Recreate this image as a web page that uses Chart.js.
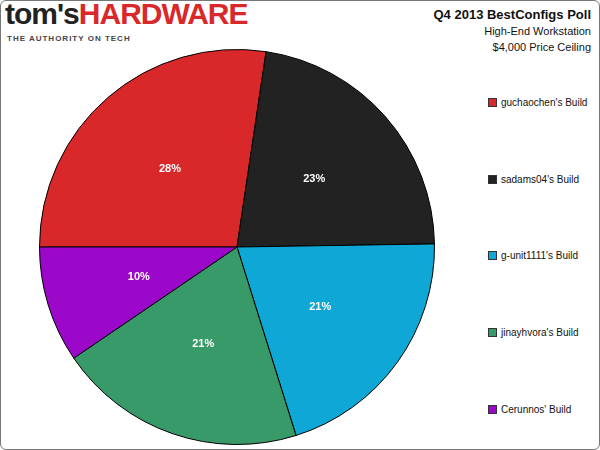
<!DOCTYPE html>
<html><head><meta charset="utf-8">
<script src="https://cdn.jsdelivr.net/npm/chart.js@4"></script>
<style>
body{margin:0;background:#fff;font-family:Arial,"Liberation Sans",sans-serif}
#frame{position:absolute;left:0;top:0;width:598px;height:448px;border:1px solid #777;border-radius:6px;overflow:hidden}
#logo{position:absolute;left:4px;top:-4px;font-size:30px;font-weight:bold;letter-spacing:-1px}
#logo .a{color:#222}#logo .b{color:#d9282a}
#tag{position:absolute;left:6px;top:33px;font-size:8px;font-weight:bold;color:#444;letter-spacing:1px}
#title{position:absolute;right:8px;top:6px;text-align:right;font-size:11px;line-height:16px;color:#111}
#title b{font-size:13px}
#chartBox{position:absolute;left:30px;top:40px;width:412px;height:412px}
.leg{position:absolute;left:487px;font-size:10px;color:#111}
.leg span{display:inline-block;width:7px;height:7px;margin-right:4px;border:1px solid #333;vertical-align:-1px}
</style></head><body>
<div id="frame">
<div id="logo"><span class="a">tom's</span><span class="b">HARDWARE</span></div>
<div id="tag">THE AUTHORITY ON TECH</div>
<div id="title"><b>Q4 2013 BestConfigs Poll</b><br>High-End Workstation<br>$4,000 Price Ceiling</div>
<div id="chartBox"><canvas id="pie"></canvas></div>
</div>
<script>
// données (pourcentages)
const builds = ["guchaochen's Build", "sadams04's Build", "g-unit1111's Build", "jinayhvora's Build", "Cerunnos' Build"];
const votes = [27.6, 22.6, 20.6, 20.5, 9.6];
const colors = ['#d9282a', '#222222', '#0ea7d6', '#389a68', '#9b08c9'];
const legendY = [96, 173, 249, 326, 403];

builds.forEach((b, i) => {
    const d = document.createElement('div');
    d.className = 'leg';
    d.style.top = legendY[i] + 'px';
    d.innerHTML = `<span style="background:${colors[i]}"></span>${b}`;
    document.getElementById('frame').appendChild(d);
});

const pctLabels = {
    id: 'pctLabels',
    afterDatasetsDraw(chart) {
        const ctx = chart.ctx;
        ctx.save();
        ctx.font = 'bold 11px Arial';
        ctx.fillStyle = '#fff';
        ctx.textAlign = 'center';
        ctx.textBaseline = 'middle';
        chart.getDatasetMeta(0).data.forEach((arc, i) => {
            const mid = (arc.startAngle + arc.endAngle) / 2;
            const r = arc.outerRadius * 0.52;
            ctx.fillText(Math.round(votes[i]) + '%', arc.x + Math.cos(mid) * r, arc.y + Math.sin(mid) * r);
        });
        ctx.restore();
    }
};

new Chart(document.getElementById('pie'), {
    type: 'pie',
    data: { labels: builds, datasets: [{ data: votes, backgroundColor: colors, borderColor: '#000', borderWidth: 1 }] },
    options: {
        responsive: true, maintainAspectRatio: false, animation: false,
        rotation: -90,
        layout: { padding: 8 },
        plugins: { legend: { display: false }, tooltip: { enabled: false } }
    },
    plugins: [pctLabels]
});
</script>
</body></html>
